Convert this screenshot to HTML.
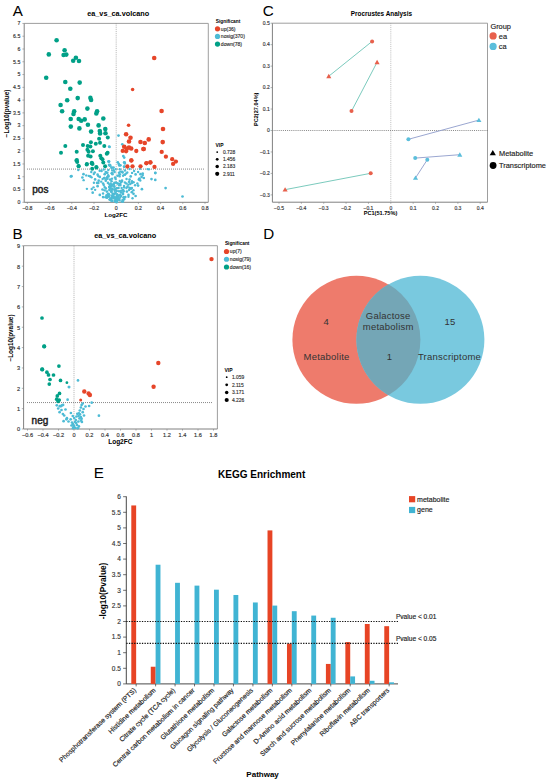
<!DOCTYPE html>
<html><head><meta charset="utf-8"><style>
html,body{margin:0;padding:0;background:#fff;width:550px;height:780px;overflow:hidden}
svg{display:block;font-family:"Liberation Sans",sans-serif}
</style></head><body>
<svg width="550" height="780" viewBox="0 0 550 780">
<rect width="550" height="780" fill="#fff"/>
<text x="12.70" y="15.80" font-size="15.2" text-anchor="start" fill="#000">A</text>
<text x="118.20" y="15.90" font-size="7.3" text-anchor="middle" font-weight="bold" fill="#000">ea_vs_ca.volcano</text>
<line x1="24.20" y1="23.40" x2="208.30" y2="23.40" stroke="#999" stroke-width="0.95"/>
<line x1="208.30" y1="23.40" x2="208.30" y2="202.30" stroke="#999" stroke-width="0.95"/>
<line x1="27.00" y1="169.09" x2="204.00" y2="169.09" stroke="#555" stroke-width="0.7" stroke-dasharray="1,1"/>
<line x1="116.20" y1="23.40" x2="116.20" y2="202.30" stroke="#888" stroke-width="0.6" stroke-dasharray="1,0.9"/>
<line x1="24.20" y1="23.40" x2="24.20" y2="202.30" stroke="#808080" stroke-width="1.0"/>
<line x1="24.20" y1="202.30" x2="208.30" y2="202.30" stroke="#808080" stroke-width="1.0"/>
<line x1="22.40" y1="202.30" x2="24.20" y2="202.30" stroke="#808080" stroke-width="0.6"/>
<text x="20.30" y="204.10" font-size="5.2" text-anchor="end" fill="#333" stroke="#333" stroke-width="0.15">0</text>
<line x1="22.40" y1="189.53" x2="24.20" y2="189.53" stroke="#808080" stroke-width="0.6"/>
<text x="20.30" y="191.33" font-size="5.2" text-anchor="end" fill="#333" stroke="#333" stroke-width="0.15">0.5</text>
<line x1="22.40" y1="176.75" x2="24.20" y2="176.75" stroke="#808080" stroke-width="0.6"/>
<text x="20.30" y="178.55" font-size="5.2" text-anchor="end" fill="#333" stroke="#333" stroke-width="0.15">1</text>
<line x1="22.40" y1="163.98" x2="24.20" y2="163.98" stroke="#808080" stroke-width="0.6"/>
<text x="20.30" y="165.78" font-size="5.2" text-anchor="end" fill="#333" stroke="#333" stroke-width="0.15">1.5</text>
<line x1="22.40" y1="151.20" x2="24.20" y2="151.20" stroke="#808080" stroke-width="0.6"/>
<text x="20.30" y="153.00" font-size="5.2" text-anchor="end" fill="#333" stroke="#333" stroke-width="0.15">2</text>
<line x1="22.40" y1="138.43" x2="24.20" y2="138.43" stroke="#808080" stroke-width="0.6"/>
<text x="20.30" y="140.23" font-size="5.2" text-anchor="end" fill="#333" stroke="#333" stroke-width="0.15">2.5</text>
<line x1="22.40" y1="125.65" x2="24.20" y2="125.65" stroke="#808080" stroke-width="0.6"/>
<text x="20.30" y="127.45" font-size="5.2" text-anchor="end" fill="#333" stroke="#333" stroke-width="0.15">3</text>
<line x1="22.40" y1="112.88" x2="24.20" y2="112.88" stroke="#808080" stroke-width="0.6"/>
<text x="20.30" y="114.68" font-size="5.2" text-anchor="end" fill="#333" stroke="#333" stroke-width="0.15">3.5</text>
<line x1="22.40" y1="100.10" x2="24.20" y2="100.10" stroke="#808080" stroke-width="0.6"/>
<text x="20.30" y="101.90" font-size="5.2" text-anchor="end" fill="#333" stroke="#333" stroke-width="0.15">4</text>
<line x1="22.40" y1="87.33" x2="24.20" y2="87.33" stroke="#808080" stroke-width="0.6"/>
<text x="20.30" y="89.12" font-size="5.2" text-anchor="end" fill="#333" stroke="#333" stroke-width="0.15">4.5</text>
<line x1="22.40" y1="74.55" x2="24.20" y2="74.55" stroke="#808080" stroke-width="0.6"/>
<text x="20.30" y="76.35" font-size="5.2" text-anchor="end" fill="#333" stroke="#333" stroke-width="0.15">5</text>
<line x1="22.40" y1="61.78" x2="24.20" y2="61.78" stroke="#808080" stroke-width="0.6"/>
<text x="20.30" y="63.58" font-size="5.2" text-anchor="end" fill="#333" stroke="#333" stroke-width="0.15">5.5</text>
<line x1="22.40" y1="49.00" x2="24.20" y2="49.00" stroke="#808080" stroke-width="0.6"/>
<text x="20.30" y="50.80" font-size="5.2" text-anchor="end" fill="#333" stroke="#333" stroke-width="0.15">6</text>
<line x1="22.40" y1="36.22" x2="24.20" y2="36.22" stroke="#808080" stroke-width="0.6"/>
<text x="20.30" y="38.02" font-size="5.2" text-anchor="end" fill="#333" stroke="#333" stroke-width="0.15">6.5</text>
<line x1="22.40" y1="23.45" x2="24.20" y2="23.45" stroke="#808080" stroke-width="0.6"/>
<text x="20.30" y="25.25" font-size="5.2" text-anchor="end" fill="#333" stroke="#333" stroke-width="0.15">7</text>
<line x1="27.40" y1="202.30" x2="27.40" y2="203.90" stroke="#808080" stroke-width="0.6"/>
<text x="27.40" y="209.80" font-size="5.2" text-anchor="middle" fill="#333" stroke="#333" stroke-width="0.15">−0.8</text>
<line x1="49.60" y1="202.30" x2="49.60" y2="203.90" stroke="#808080" stroke-width="0.6"/>
<text x="49.60" y="209.80" font-size="5.2" text-anchor="middle" fill="#333" stroke="#333" stroke-width="0.15">−0.6</text>
<line x1="71.80" y1="202.30" x2="71.80" y2="203.90" stroke="#808080" stroke-width="0.6"/>
<text x="71.80" y="209.80" font-size="5.2" text-anchor="middle" fill="#333" stroke="#333" stroke-width="0.15">−0.4</text>
<line x1="94.00" y1="202.30" x2="94.00" y2="203.90" stroke="#808080" stroke-width="0.6"/>
<text x="94.00" y="209.80" font-size="5.2" text-anchor="middle" fill="#333" stroke="#333" stroke-width="0.15">−0.2</text>
<line x1="116.20" y1="202.30" x2="116.20" y2="203.90" stroke="#808080" stroke-width="0.6"/>
<text x="116.20" y="209.80" font-size="5.2" text-anchor="middle" fill="#333" stroke="#333" stroke-width="0.15">0</text>
<line x1="138.40" y1="202.30" x2="138.40" y2="203.90" stroke="#808080" stroke-width="0.6"/>
<text x="138.40" y="209.80" font-size="5.2" text-anchor="middle" fill="#333" stroke="#333" stroke-width="0.15">0.2</text>
<line x1="160.60" y1="202.30" x2="160.60" y2="203.90" stroke="#808080" stroke-width="0.6"/>
<text x="160.60" y="209.80" font-size="5.2" text-anchor="middle" fill="#333" stroke="#333" stroke-width="0.15">0.4</text>
<line x1="182.80" y1="202.30" x2="182.80" y2="203.90" stroke="#808080" stroke-width="0.6"/>
<text x="182.80" y="209.80" font-size="5.2" text-anchor="middle" fill="#333" stroke="#333" stroke-width="0.15">0.6</text>
<line x1="205.00" y1="202.30" x2="205.00" y2="203.90" stroke="#808080" stroke-width="0.6"/>
<text x="205.00" y="209.80" font-size="5.2" text-anchor="middle" fill="#333" stroke="#333" stroke-width="0.15">0.8</text>
<text x="115.90" y="216.60" font-size="6.2" text-anchor="middle" font-weight="bold" fill="#000">Log2FC</text>
<text x="8.90" y="113.50" font-size="6.5" text-anchor="middle" font-weight="bold" fill="#000" transform="rotate(-90 8.90 113.50)">−Log10(pvalue)</text>
<text x="32.30" y="193.10" font-size="10" text-anchor="start" fill="#222" stroke="#222" stroke-width="0.45">pos</text>
<text x="215.80" y="22.90" font-size="4.8" text-anchor="start" font-weight="bold" fill="#000">Significant</text>
<circle cx="217.50" cy="28.80" r="2.6" fill="#E64529"/>
<text x="220.80" y="30.60" font-size="5.1" text-anchor="start" fill="#333" stroke="#333" stroke-width="0.15">up(36)</text>
<circle cx="217.50" cy="36.45" r="2.6" fill="#4DBBD5"/>
<text x="220.80" y="38.25" font-size="5.1" text-anchor="start" fill="#333" stroke="#333" stroke-width="0.15">nosig(370)</text>
<circle cx="217.50" cy="44.10" r="2.6" fill="#00A087"/>
<text x="220.80" y="45.90" font-size="5.1" text-anchor="start" fill="#333" stroke="#333" stroke-width="0.15">down(78)</text>
<text x="215.50" y="146.60" font-size="5" text-anchor="start" font-weight="bold" fill="#000">VIP</text>
<circle cx="217.20" cy="152.10" r="0.9" fill="#000"/>
<text x="222.90" y="153.80" font-size="4.9" text-anchor="start" fill="#333" stroke="#333" stroke-width="0.15">0.728</text>
<circle cx="217.20" cy="159.35" r="1.4" fill="#000"/>
<text x="222.90" y="161.05" font-size="4.9" text-anchor="start" fill="#333" stroke="#333" stroke-width="0.15">1.456</text>
<circle cx="217.20" cy="166.60" r="1.75" fill="#000"/>
<text x="222.90" y="168.30" font-size="4.9" text-anchor="start" fill="#333" stroke="#333" stroke-width="0.15">2.183</text>
<circle cx="217.20" cy="173.85" r="2.05" fill="#000"/>
<text x="222.90" y="175.55" font-size="4.9" text-anchor="start" fill="#333" stroke="#333" stroke-width="0.15">2.911</text>
<circle cx="123.57" cy="191.38" r="1.2" fill="#4DBBD5"/>
<circle cx="122.56" cy="199.86" r="1.2" fill="#4DBBD5"/>
<circle cx="113.56" cy="184.23" r="1.2" fill="#4DBBD5"/>
<circle cx="119.08" cy="185.19" r="1.2" fill="#4DBBD5"/>
<circle cx="114.48" cy="201.04" r="1.2" fill="#4DBBD5"/>
<circle cx="117.07" cy="199.24" r="1.2" fill="#4DBBD5"/>
<circle cx="118.60" cy="187.98" r="1.2" fill="#4DBBD5"/>
<circle cx="112.84" cy="194.77" r="1.2" fill="#4DBBD5"/>
<circle cx="131.99" cy="181.14" r="1.2" fill="#4DBBD5"/>
<circle cx="112.11" cy="188.92" r="1.2" fill="#4DBBD5"/>
<circle cx="148.98" cy="169.37" r="1.2" fill="#4DBBD5"/>
<circle cx="120.91" cy="192.53" r="1.2" fill="#4DBBD5"/>
<circle cx="120.22" cy="197.43" r="1.2" fill="#4DBBD5"/>
<circle cx="125.01" cy="174.78" r="1.2" fill="#4DBBD5"/>
<circle cx="107.71" cy="196.20" r="1.2" fill="#4DBBD5"/>
<circle cx="109.65" cy="189.74" r="1.2" fill="#4DBBD5"/>
<circle cx="119.97" cy="183.83" r="1.2" fill="#4DBBD5"/>
<circle cx="117.16" cy="195.35" r="1.2" fill="#4DBBD5"/>
<circle cx="105.74" cy="179.35" r="1.2" fill="#4DBBD5"/>
<circle cx="120.84" cy="182.55" r="1.2" fill="#4DBBD5"/>
<circle cx="110.50" cy="187.02" r="1.2" fill="#4DBBD5"/>
<circle cx="139.31" cy="178.73" r="1.2" fill="#4DBBD5"/>
<circle cx="107.86" cy="194.07" r="1.2" fill="#4DBBD5"/>
<circle cx="107.41" cy="172.79" r="1.2" fill="#4DBBD5"/>
<circle cx="106.90" cy="177.70" r="1.2" fill="#4DBBD5"/>
<circle cx="132.52" cy="198.32" r="1.2" fill="#4DBBD5"/>
<circle cx="116.46" cy="188.20" r="1.2" fill="#4DBBD5"/>
<circle cx="109.95" cy="185.81" r="1.2" fill="#4DBBD5"/>
<circle cx="112.06" cy="200.98" r="1.2" fill="#4DBBD5"/>
<circle cx="98.43" cy="182.97" r="1.2" fill="#4DBBD5"/>
<circle cx="106.59" cy="172.77" r="1.2" fill="#4DBBD5"/>
<circle cx="133.63" cy="182.25" r="1.2" fill="#4DBBD5"/>
<circle cx="93.93" cy="182.74" r="1.2" fill="#4DBBD5"/>
<circle cx="124.99" cy="170.44" r="1.2" fill="#4DBBD5"/>
<circle cx="114.26" cy="186.31" r="1.2" fill="#4DBBD5"/>
<circle cx="112.04" cy="178.64" r="1.2" fill="#4DBBD5"/>
<circle cx="140.28" cy="180.47" r="1.2" fill="#4DBBD5"/>
<circle cx="115.54" cy="192.70" r="1.2" fill="#4DBBD5"/>
<circle cx="115.20" cy="189.29" r="1.2" fill="#4DBBD5"/>
<circle cx="114.24" cy="186.73" r="1.2" fill="#4DBBD5"/>
<circle cx="117.92" cy="196.63" r="1.2" fill="#4DBBD5"/>
<circle cx="119.61" cy="176.39" r="1.2" fill="#4DBBD5"/>
<circle cx="116.29" cy="197.94" r="1.2" fill="#4DBBD5"/>
<circle cx="132.06" cy="172.91" r="1.2" fill="#4DBBD5"/>
<circle cx="109.60" cy="199.58" r="1.2" fill="#4DBBD5"/>
<circle cx="122.58" cy="172.51" r="1.2" fill="#4DBBD5"/>
<circle cx="124.28" cy="174.67" r="1.2" fill="#4DBBD5"/>
<circle cx="110.16" cy="188.29" r="1.2" fill="#4DBBD5"/>
<circle cx="133.43" cy="190.20" r="1.2" fill="#4DBBD5"/>
<circle cx="105.44" cy="197.21" r="1.2" fill="#4DBBD5"/>
<circle cx="116.76" cy="196.36" r="1.2" fill="#4DBBD5"/>
<circle cx="124.05" cy="185.94" r="1.2" fill="#4DBBD5"/>
<circle cx="116.11" cy="182.43" r="1.2" fill="#4DBBD5"/>
<circle cx="117.10" cy="188.17" r="1.2" fill="#4DBBD5"/>
<circle cx="95.14" cy="189.85" r="1.2" fill="#4DBBD5"/>
<circle cx="102.63" cy="179.01" r="1.2" fill="#4DBBD5"/>
<circle cx="103.72" cy="184.91" r="1.2" fill="#4DBBD5"/>
<circle cx="110.99" cy="200.48" r="1.2" fill="#4DBBD5"/>
<circle cx="122.42" cy="171.96" r="1.2" fill="#4DBBD5"/>
<circle cx="86.26" cy="175.39" r="1.2" fill="#4DBBD5"/>
<circle cx="112.58" cy="189.07" r="1.2" fill="#4DBBD5"/>
<circle cx="119.75" cy="180.91" r="1.2" fill="#4DBBD5"/>
<circle cx="119.48" cy="200.20" r="1.2" fill="#4DBBD5"/>
<circle cx="118.05" cy="196.83" r="1.2" fill="#4DBBD5"/>
<circle cx="116.38" cy="190.83" r="1.2" fill="#4DBBD5"/>
<circle cx="116.25" cy="197.20" r="1.2" fill="#4DBBD5"/>
<circle cx="115.34" cy="198.88" r="1.2" fill="#4DBBD5"/>
<circle cx="118.94" cy="172.81" r="1.2" fill="#4DBBD5"/>
<circle cx="121.89" cy="181.59" r="1.2" fill="#4DBBD5"/>
<circle cx="121.73" cy="190.58" r="1.2" fill="#4DBBD5"/>
<circle cx="129.08" cy="190.02" r="1.2" fill="#4DBBD5"/>
<circle cx="139.98" cy="168.81" r="1.2" fill="#4DBBD5"/>
<circle cx="111.74" cy="186.58" r="1.2" fill="#4DBBD5"/>
<circle cx="116.45" cy="198.85" r="1.2" fill="#4DBBD5"/>
<circle cx="114.64" cy="190.74" r="1.2" fill="#4DBBD5"/>
<circle cx="128.49" cy="196.86" r="1.2" fill="#4DBBD5"/>
<circle cx="121.74" cy="201.52" r="1.2" fill="#4DBBD5"/>
<circle cx="113.83" cy="197.36" r="1.2" fill="#4DBBD5"/>
<circle cx="130.22" cy="183.98" r="1.2" fill="#4DBBD5"/>
<circle cx="119.79" cy="169.30" r="1.2" fill="#4DBBD5"/>
<circle cx="112.12" cy="173.18" r="1.2" fill="#4DBBD5"/>
<circle cx="109.39" cy="189.93" r="1.2" fill="#4DBBD5"/>
<circle cx="117.33" cy="196.67" r="1.2" fill="#4DBBD5"/>
<circle cx="98.23" cy="176.03" r="1.2" fill="#4DBBD5"/>
<circle cx="118.91" cy="191.18" r="1.2" fill="#4DBBD5"/>
<circle cx="147.58" cy="169.08" r="1.2" fill="#4DBBD5"/>
<circle cx="126.20" cy="173.54" r="1.2" fill="#4DBBD5"/>
<circle cx="91.59" cy="177.35" r="1.2" fill="#4DBBD5"/>
<circle cx="109.28" cy="194.65" r="1.2" fill="#4DBBD5"/>
<circle cx="115.70" cy="201.32" r="1.2" fill="#4DBBD5"/>
<circle cx="115.52" cy="201.36" r="1.2" fill="#4DBBD5"/>
<circle cx="126.53" cy="178.94" r="1.2" fill="#4DBBD5"/>
<circle cx="78.28" cy="170.04" r="1.2" fill="#4DBBD5"/>
<circle cx="129.57" cy="168.98" r="1.2" fill="#4DBBD5"/>
<circle cx="108.27" cy="170.09" r="1.2" fill="#4DBBD5"/>
<circle cx="120.14" cy="194.65" r="1.2" fill="#4DBBD5"/>
<circle cx="118.98" cy="195.67" r="1.2" fill="#4DBBD5"/>
<circle cx="138.09" cy="171.94" r="1.2" fill="#4DBBD5"/>
<circle cx="93.80" cy="173.96" r="1.2" fill="#4DBBD5"/>
<circle cx="119.00" cy="175.33" r="1.2" fill="#4DBBD5"/>
<circle cx="109.71" cy="199.44" r="1.2" fill="#4DBBD5"/>
<circle cx="88.81" cy="175.92" r="1.2" fill="#4DBBD5"/>
<circle cx="107.30" cy="177.00" r="1.2" fill="#4DBBD5"/>
<circle cx="117.48" cy="175.69" r="1.2" fill="#4DBBD5"/>
<circle cx="123.60" cy="191.09" r="1.2" fill="#4DBBD5"/>
<circle cx="91.72" cy="188.95" r="1.2" fill="#4DBBD5"/>
<circle cx="130.97" cy="188.76" r="1.2" fill="#4DBBD5"/>
<circle cx="112.68" cy="196.57" r="1.2" fill="#4DBBD5"/>
<circle cx="123.92" cy="198.02" r="1.2" fill="#4DBBD5"/>
<circle cx="142.79" cy="175.10" r="1.2" fill="#4DBBD5"/>
<circle cx="124.45" cy="197.37" r="1.2" fill="#4DBBD5"/>
<circle cx="83.63" cy="180.13" r="1.2" fill="#4DBBD5"/>
<circle cx="111.62" cy="190.48" r="1.2" fill="#4DBBD5"/>
<circle cx="115.46" cy="201.82" r="1.2" fill="#4DBBD5"/>
<circle cx="103.77" cy="169.56" r="1.2" fill="#4DBBD5"/>
<circle cx="99.65" cy="170.81" r="1.2" fill="#4DBBD5"/>
<circle cx="129.36" cy="187.67" r="1.2" fill="#4DBBD5"/>
<circle cx="106.45" cy="195.18" r="1.2" fill="#4DBBD5"/>
<circle cx="114.66" cy="193.81" r="1.2" fill="#4DBBD5"/>
<circle cx="124.90" cy="182.52" r="1.2" fill="#4DBBD5"/>
<circle cx="112.56" cy="193.55" r="1.2" fill="#4DBBD5"/>
<circle cx="120.45" cy="171.61" r="1.2" fill="#4DBBD5"/>
<circle cx="104.57" cy="190.37" r="1.2" fill="#4DBBD5"/>
<circle cx="121.83" cy="171.80" r="1.2" fill="#4DBBD5"/>
<circle cx="126.45" cy="188.11" r="1.2" fill="#4DBBD5"/>
<circle cx="109.52" cy="184.36" r="1.2" fill="#4DBBD5"/>
<circle cx="128.33" cy="184.64" r="1.2" fill="#4DBBD5"/>
<circle cx="117.07" cy="196.12" r="1.2" fill="#4DBBD5"/>
<circle cx="117.04" cy="202.17" r="1.2" fill="#4DBBD5"/>
<circle cx="109.94" cy="186.33" r="1.2" fill="#4DBBD5"/>
<circle cx="104.54" cy="177.84" r="1.2" fill="#4DBBD5"/>
<circle cx="112.72" cy="184.82" r="1.2" fill="#4DBBD5"/>
<circle cx="117.39" cy="183.57" r="1.2" fill="#4DBBD5"/>
<circle cx="110.73" cy="183.40" r="1.2" fill="#4DBBD5"/>
<circle cx="113.97" cy="193.92" r="1.2" fill="#4DBBD5"/>
<circle cx="135.08" cy="185.18" r="1.2" fill="#4DBBD5"/>
<circle cx="117.84" cy="183.36" r="1.2" fill="#4DBBD5"/>
<circle cx="93.54" cy="187.35" r="1.2" fill="#4DBBD5"/>
<circle cx="101.21" cy="181.64" r="1.2" fill="#4DBBD5"/>
<circle cx="115.63" cy="178.94" r="1.2" fill="#4DBBD5"/>
<circle cx="104.59" cy="187.04" r="1.2" fill="#4DBBD5"/>
<circle cx="112.21" cy="170.55" r="1.2" fill="#4DBBD5"/>
<circle cx="139.48" cy="178.72" r="1.2" fill="#4DBBD5"/>
<circle cx="103.05" cy="193.54" r="1.2" fill="#4DBBD5"/>
<circle cx="137.40" cy="183.43" r="1.2" fill="#4DBBD5"/>
<circle cx="112.03" cy="197.68" r="1.2" fill="#4DBBD5"/>
<circle cx="114.01" cy="198.20" r="1.2" fill="#4DBBD5"/>
<circle cx="117.25" cy="194.18" r="1.2" fill="#4DBBD5"/>
<circle cx="111.62" cy="199.83" r="1.2" fill="#4DBBD5"/>
<circle cx="91.29" cy="172.05" r="1.2" fill="#4DBBD5"/>
<circle cx="114.19" cy="197.09" r="1.2" fill="#4DBBD5"/>
<circle cx="107.12" cy="197.48" r="1.2" fill="#4DBBD5"/>
<circle cx="127.29" cy="172.53" r="1.2" fill="#4DBBD5"/>
<circle cx="113.78" cy="170.18" r="1.2" fill="#4DBBD5"/>
<circle cx="86.92" cy="188.87" r="1.2" fill="#4DBBD5"/>
<circle cx="119.94" cy="174.22" r="1.2" fill="#4DBBD5"/>
<circle cx="109.01" cy="196.85" r="1.2" fill="#4DBBD5"/>
<circle cx="120.68" cy="190.86" r="1.2" fill="#4DBBD5"/>
<circle cx="111.51" cy="195.70" r="1.2" fill="#4DBBD5"/>
<circle cx="123.03" cy="201.64" r="1.2" fill="#4DBBD5"/>
<circle cx="114.11" cy="183.61" r="1.2" fill="#4DBBD5"/>
<circle cx="116.82" cy="191.12" r="1.2" fill="#4DBBD5"/>
<circle cx="111.60" cy="181.26" r="1.2" fill="#4DBBD5"/>
<circle cx="115.71" cy="169.08" r="1.2" fill="#4DBBD5"/>
<circle cx="123.07" cy="175.71" r="1.2" fill="#4DBBD5"/>
<circle cx="115.54" cy="193.34" r="1.2" fill="#4DBBD5"/>
<circle cx="116.91" cy="200.96" r="1.2" fill="#4DBBD5"/>
<circle cx="111.40" cy="197.93" r="1.2" fill="#4DBBD5"/>
<circle cx="131.91" cy="188.06" r="1.2" fill="#4DBBD5"/>
<circle cx="108.53" cy="193.58" r="1.2" fill="#4DBBD5"/>
<circle cx="123.48" cy="197.26" r="1.2" fill="#4DBBD5"/>
<circle cx="107.55" cy="178.68" r="1.2" fill="#4DBBD5"/>
<circle cx="124.23" cy="199.28" r="1.2" fill="#4DBBD5"/>
<circle cx="121.63" cy="187.96" r="1.2" fill="#4DBBD5"/>
<circle cx="123.29" cy="199.86" r="1.2" fill="#4DBBD5"/>
<circle cx="108.16" cy="175.26" r="1.2" fill="#4DBBD5"/>
<circle cx="117.47" cy="199.48" r="1.2" fill="#4DBBD5"/>
<circle cx="111.59" cy="173.20" r="1.2" fill="#4DBBD5"/>
<circle cx="109.17" cy="187.00" r="1.2" fill="#4DBBD5"/>
<circle cx="134.11" cy="171.05" r="1.2" fill="#4DBBD5"/>
<circle cx="122.91" cy="193.27" r="1.2" fill="#4DBBD5"/>
<circle cx="122.93" cy="194.26" r="1.2" fill="#4DBBD5"/>
<circle cx="117.20" cy="198.61" r="1.2" fill="#4DBBD5"/>
<circle cx="118.14" cy="195.50" r="1.2" fill="#4DBBD5"/>
<circle cx="111.31" cy="191.78" r="1.2" fill="#4DBBD5"/>
<circle cx="70.90" cy="176.40" r="1.35" fill="#4DBBD5"/>
<circle cx="83.50" cy="174.20" r="1.35" fill="#4DBBD5"/>
<circle cx="82.40" cy="177.50" r="1.35" fill="#4DBBD5"/>
<circle cx="90.30" cy="176.40" r="1.35" fill="#4DBBD5"/>
<circle cx="94.70" cy="172.50" r="1.35" fill="#4DBBD5"/>
<circle cx="95.10" cy="179.40" r="1.35" fill="#4DBBD5"/>
<circle cx="97.60" cy="174.70" r="1.35" fill="#4DBBD5"/>
<circle cx="98.70" cy="180.70" r="1.35" fill="#4DBBD5"/>
<circle cx="99.80" cy="176.90" r="1.35" fill="#4DBBD5"/>
<circle cx="97.10" cy="182.90" r="1.35" fill="#4DBBD5"/>
<circle cx="97.60" cy="186.20" r="1.35" fill="#4DBBD5"/>
<circle cx="92.70" cy="192.70" r="1.35" fill="#4DBBD5"/>
<circle cx="99.80" cy="194.90" r="1.35" fill="#4DBBD5"/>
<circle cx="103.10" cy="197.10" r="1.35" fill="#4DBBD5"/>
<circle cx="101.50" cy="170.90" r="1.35" fill="#4DBBD5"/>
<circle cx="104.70" cy="174.20" r="1.35" fill="#4DBBD5"/>
<circle cx="105.80" cy="172.00" r="1.35" fill="#4DBBD5"/>
<circle cx="108.50" cy="176.40" r="1.35" fill="#4DBBD5"/>
<circle cx="104.20" cy="178.00" r="1.35" fill="#4DBBD5"/>
<circle cx="105.80" cy="180.70" r="1.35" fill="#4DBBD5"/>
<circle cx="103.10" cy="183.50" r="1.35" fill="#4DBBD5"/>
<circle cx="108.00" cy="182.90" r="1.35" fill="#4DBBD5"/>
<circle cx="110.20" cy="179.60" r="1.35" fill="#4DBBD5"/>
<circle cx="112.40" cy="174.20" r="1.35" fill="#4DBBD5"/>
<circle cx="111.80" cy="185.10" r="1.35" fill="#4DBBD5"/>
<circle cx="109.60" cy="187.30" r="1.35" fill="#4DBBD5"/>
<circle cx="105.80" cy="188.40" r="1.35" fill="#4DBBD5"/>
<circle cx="102.50" cy="189.50" r="1.35" fill="#4DBBD5"/>
<circle cx="106.90" cy="191.60" r="1.35" fill="#4DBBD5"/>
<circle cx="111.30" cy="191.60" r="1.35" fill="#4DBBD5"/>
<circle cx="114.50" cy="189.50" r="1.35" fill="#4DBBD5"/>
<circle cx="108.50" cy="194.90" r="1.35" fill="#4DBBD5"/>
<circle cx="113.50" cy="194.90" r="1.35" fill="#4DBBD5"/>
<circle cx="106.90" cy="197.60" r="1.35" fill="#4DBBD5"/>
<circle cx="110.70" cy="198.70" r="1.35" fill="#4DBBD5"/>
<circle cx="114.50" cy="198.20" r="1.35" fill="#4DBBD5"/>
<circle cx="116.70" cy="201.50" r="1.35" fill="#4DBBD5"/>
<circle cx="118.90" cy="199.30" r="1.35" fill="#4DBBD5"/>
<circle cx="114.50" cy="182.90" r="1.35" fill="#4DBBD5"/>
<circle cx="115.10" cy="177.50" r="1.35" fill="#4DBBD5"/>
<circle cx="114.50" cy="172.00" r="1.35" fill="#4DBBD5"/>
<circle cx="109.10" cy="161.60" r="1.35" fill="#4DBBD5"/>
<circle cx="109.10" cy="164.90" r="1.35" fill="#4DBBD5"/>
<circle cx="113.50" cy="167.60" r="1.35" fill="#4DBBD5"/>
<circle cx="124.70" cy="162.70" r="1.35" fill="#4DBBD5"/>
<circle cx="124.20" cy="166.80" r="1.35" fill="#4DBBD5"/>
<circle cx="111.60" cy="167.60" r="1.35" fill="#4DBBD5"/>
<circle cx="119.30" cy="165.50" r="1.35" fill="#4DBBD5"/>
<circle cx="135.60" cy="174.40" r="1.35" fill="#4DBBD5"/>
<circle cx="130.70" cy="176.40" r="1.35" fill="#4DBBD5"/>
<circle cx="140.50" cy="174.20" r="1.35" fill="#4DBBD5"/>
<circle cx="142.70" cy="173.60" r="1.35" fill="#4DBBD5"/>
<circle cx="141.60" cy="176.90" r="1.35" fill="#4DBBD5"/>
<circle cx="143.80" cy="178.00" r="1.35" fill="#4DBBD5"/>
<circle cx="138.90" cy="179.60" r="1.35" fill="#4DBBD5"/>
<circle cx="155.30" cy="173.10" r="1.35" fill="#4DBBD5"/>
<circle cx="151.50" cy="179.10" r="1.35" fill="#4DBBD5"/>
<circle cx="155.30" cy="179.90" r="1.35" fill="#4DBBD5"/>
<circle cx="165.60" cy="188.10" r="1.35" fill="#4DBBD5"/>
<circle cx="141.90" cy="189.20" r="1.35" fill="#4DBBD5"/>
<circle cx="138.10" cy="185.60" r="1.35" fill="#4DBBD5"/>
<circle cx="129.60" cy="179.60" r="1.35" fill="#4DBBD5"/>
<circle cx="129.10" cy="181.80" r="1.35" fill="#4DBBD5"/>
<circle cx="131.80" cy="182.90" r="1.35" fill="#4DBBD5"/>
<circle cx="126.40" cy="183.50" r="1.35" fill="#4DBBD5"/>
<circle cx="122.00" cy="180.70" r="1.35" fill="#4DBBD5"/>
<circle cx="120.40" cy="185.10" r="1.35" fill="#4DBBD5"/>
<circle cx="124.20" cy="187.30" r="1.35" fill="#4DBBD5"/>
<circle cx="127.50" cy="186.70" r="1.35" fill="#4DBBD5"/>
<circle cx="130.20" cy="188.40" r="1.35" fill="#4DBBD5"/>
<circle cx="123.10" cy="190.00" r="1.35" fill="#4DBBD5"/>
<circle cx="126.90" cy="191.60" r="1.35" fill="#4DBBD5"/>
<circle cx="131.80" cy="192.20" r="1.35" fill="#4DBBD5"/>
<circle cx="133.50" cy="193.80" r="1.35" fill="#4DBBD5"/>
<circle cx="135.60" cy="196.00" r="1.35" fill="#4DBBD5"/>
<circle cx="128.50" cy="194.90" r="1.35" fill="#4DBBD5"/>
<circle cx="125.30" cy="197.10" r="1.35" fill="#4DBBD5"/>
<circle cx="120.90" cy="196.00" r="1.35" fill="#4DBBD5"/>
<circle cx="118.70" cy="198.70" r="1.35" fill="#4DBBD5"/>
<circle cx="116.50" cy="200.40" r="1.35" fill="#4DBBD5"/>
<circle cx="118.50" cy="135.60" r="1.35" fill="#4DBBD5"/>
<circle cx="122.30" cy="144.30" r="1.35" fill="#4DBBD5"/>
<circle cx="109.20" cy="146.60" r="1.35" fill="#4DBBD5"/>
<circle cx="123.30" cy="156.00" r="1.35" fill="#4DBBD5"/>
<circle cx="124.20" cy="157.60" r="1.35" fill="#4DBBD5"/>
<circle cx="108.70" cy="161.50" r="1.35" fill="#4DBBD5"/>
<circle cx="117.80" cy="162.30" r="1.35" fill="#4DBBD5"/>
<circle cx="118.80" cy="164.00" r="1.35" fill="#4DBBD5"/>
<circle cx="120.40" cy="165.30" r="1.35" fill="#4DBBD5"/>
<circle cx="124.20" cy="162.30" r="1.35" fill="#4DBBD5"/>
<circle cx="124.80" cy="163.40" r="1.35" fill="#4DBBD5"/>
<circle cx="124.20" cy="166.50" r="1.35" fill="#4DBBD5"/>
<circle cx="109.90" cy="165.70" r="1.35" fill="#4DBBD5"/>
<circle cx="111.70" cy="167.80" r="1.35" fill="#4DBBD5"/>
<circle cx="155.30" cy="172.80" r="1.35" fill="#4DBBD5"/>
<circle cx="109.50" cy="147.00" r="1.35" fill="#4DBBD5"/>
<circle cx="108.50" cy="161.50" r="1.35" fill="#4DBBD5"/>
<circle cx="110.10" cy="165.20" r="1.35" fill="#4DBBD5"/>
<circle cx="182.50" cy="196.50" r="1.35" fill="#4DBBD5"/>
<circle cx="71.50" cy="176.20" r="1.35" fill="#4DBBD5"/>
<circle cx="56.60" cy="40.20" r="2.3" fill="#00A087"/>
<circle cx="64.60" cy="50.30" r="2.3" fill="#00A087"/>
<circle cx="48.80" cy="54.40" r="2.3" fill="#00A087"/>
<circle cx="63.60" cy="55.00" r="2.3" fill="#00A087"/>
<circle cx="66.30" cy="54.60" r="2.3" fill="#00A087"/>
<circle cx="75.90" cy="57.80" r="2.3" fill="#00A087"/>
<circle cx="73.20" cy="60.80" r="2.3" fill="#00A087"/>
<circle cx="79.00" cy="61.00" r="2.3" fill="#00A087"/>
<circle cx="46.20" cy="77.70" r="2.3" fill="#00A087"/>
<circle cx="65.30" cy="82.00" r="2.3" fill="#00A087"/>
<circle cx="79.70" cy="82.60" r="2.3" fill="#00A087"/>
<circle cx="70.30" cy="88.70" r="2.3" fill="#00A087"/>
<circle cx="77.70" cy="98.10" r="2.3" fill="#00A087"/>
<circle cx="90.40" cy="97.90" r="2.3" fill="#00A087"/>
<circle cx="91.10" cy="100.00" r="2.3" fill="#00A087"/>
<circle cx="67.20" cy="100.30" r="2.3" fill="#00A087"/>
<circle cx="60.60" cy="105.00" r="2.3" fill="#00A087"/>
<circle cx="87.40" cy="108.60" r="2.3" fill="#00A087"/>
<circle cx="62.10" cy="111.30" r="2.3" fill="#00A087"/>
<circle cx="74.20" cy="111.20" r="2.3" fill="#00A087"/>
<circle cx="97.10" cy="111.20" r="2.3" fill="#00A087"/>
<circle cx="73.50" cy="114.00" r="2.3" fill="#00A087"/>
<circle cx="96.30" cy="113.50" r="2.3" fill="#00A087"/>
<circle cx="70.70" cy="119.00" r="2.3" fill="#00A087"/>
<circle cx="78.70" cy="119.00" r="2.3" fill="#00A087"/>
<circle cx="81.20" cy="120.70" r="2.3" fill="#00A087"/>
<circle cx="84.70" cy="119.40" r="2.3" fill="#00A087"/>
<circle cx="103.30" cy="118.50" r="2.3" fill="#00A087"/>
<circle cx="70.80" cy="126.60" r="2.3" fill="#00A087"/>
<circle cx="79.40" cy="128.40" r="2.3" fill="#00A087"/>
<circle cx="87.90" cy="124.70" r="2.3" fill="#00A087"/>
<circle cx="98.60" cy="125.40" r="2.3" fill="#00A087"/>
<circle cx="91.10" cy="131.60" r="2.3" fill="#00A087"/>
<circle cx="99.80" cy="131.10" r="2.3" fill="#00A087"/>
<circle cx="100.10" cy="133.40" r="2.3" fill="#00A087"/>
<circle cx="105.30" cy="129.10" r="2.3" fill="#00A087"/>
<circle cx="105.50" cy="133.30" r="2.3" fill="#00A087"/>
<circle cx="107.80" cy="137.40" r="2.0" fill="#00A087"/>
<circle cx="99.10" cy="138.80" r="2.0" fill="#00A087"/>
<circle cx="65.30" cy="146.10" r="2.0" fill="#00A087"/>
<circle cx="61.00" cy="152.80" r="2.0" fill="#00A087"/>
<circle cx="83.00" cy="145.00" r="2.0" fill="#00A087"/>
<circle cx="90.90" cy="142.30" r="2.0" fill="#00A087"/>
<circle cx="95.80" cy="143.80" r="2.0" fill="#00A087"/>
<circle cx="100.00" cy="142.80" r="2.0" fill="#00A087"/>
<circle cx="87.70" cy="146.10" r="2.0" fill="#00A087"/>
<circle cx="90.40" cy="146.50" r="2.0" fill="#00A087"/>
<circle cx="104.30" cy="146.10" r="2.0" fill="#00A087"/>
<circle cx="87.40" cy="149.70" r="2.0" fill="#00A087"/>
<circle cx="88.60" cy="151.80" r="2.0" fill="#00A087"/>
<circle cx="92.90" cy="151.20" r="2.0" fill="#00A087"/>
<circle cx="76.70" cy="151.80" r="2.0" fill="#00A087"/>
<circle cx="107.60" cy="152.80" r="2.0" fill="#00A087"/>
<circle cx="106.80" cy="153.70" r="2.0" fill="#00A087"/>
<circle cx="88.10" cy="155.70" r="2.0" fill="#00A087"/>
<circle cx="90.60" cy="156.50" r="2.0" fill="#00A087"/>
<circle cx="100.30" cy="155.70" r="2.0" fill="#00A087"/>
<circle cx="101.30" cy="158.20" r="2.0" fill="#00A087"/>
<circle cx="76.90" cy="159.90" r="2.0" fill="#00A087"/>
<circle cx="77.20" cy="161.90" r="2.0" fill="#00A087"/>
<circle cx="78.70" cy="166.20" r="2.0" fill="#00A087"/>
<circle cx="86.90" cy="164.00" r="2.0" fill="#00A087"/>
<circle cx="91.70" cy="163.20" r="2.0" fill="#00A087"/>
<circle cx="102.50" cy="159.20" r="2.0" fill="#00A087"/>
<circle cx="105.10" cy="166.30" r="2.0" fill="#00A087"/>
<circle cx="96.30" cy="166.90" r="2.0" fill="#00A087"/>
<circle cx="76.40" cy="160.50" r="2.0" fill="#00A087"/>
<circle cx="78.50" cy="166.00" r="2.0" fill="#00A087"/>
<circle cx="86.70" cy="164.40" r="2.0" fill="#00A087"/>
<circle cx="91.90" cy="162.70" r="2.0" fill="#00A087"/>
<circle cx="92.50" cy="164.10" r="2.0" fill="#00A087"/>
<circle cx="92.20" cy="168.70" r="2.0" fill="#00A087"/>
<circle cx="96.50" cy="167.60" r="2.0" fill="#00A087"/>
<circle cx="103.30" cy="162.60" r="2.0" fill="#00A087"/>
<circle cx="154.20" cy="58.00" r="2.3" fill="#E64529"/>
<circle cx="161.60" cy="111.00" r="2.3" fill="#E64529"/>
<circle cx="163.00" cy="129.00" r="2.3" fill="#E64529"/>
<circle cx="126.10" cy="134.30" r="2.3" fill="#E64529"/>
<circle cx="130.50" cy="137.70" r="2.3" fill="#E64529"/>
<circle cx="129.00" cy="141.50" r="2.3" fill="#E64529"/>
<circle cx="140.50" cy="142.00" r="2.3" fill="#E64529"/>
<circle cx="144.80" cy="143.00" r="2.3" fill="#E64529"/>
<circle cx="148.70" cy="139.40" r="2.3" fill="#E64529"/>
<circle cx="162.70" cy="142.10" r="2.3" fill="#E64529"/>
<circle cx="124.20" cy="146.80" r="2.3" fill="#E64529"/>
<circle cx="129.00" cy="147.50" r="2.3" fill="#E64529"/>
<circle cx="131.20" cy="148.50" r="2.3" fill="#E64529"/>
<circle cx="126.70" cy="148.70" r="2.3" fill="#E64529"/>
<circle cx="122.70" cy="150.90" r="2.15" fill="#E64529"/>
<circle cx="126.10" cy="151.30" r="2.15" fill="#E64529"/>
<circle cx="136.30" cy="151.00" r="2.15" fill="#E64529"/>
<circle cx="143.50" cy="149.00" r="2.3" fill="#E64529"/>
<circle cx="161.70" cy="151.90" r="2.15" fill="#E64529"/>
<circle cx="165.90" cy="156.70" r="2.15" fill="#E64529"/>
<circle cx="131.40" cy="160.40" r="2.15" fill="#E64529"/>
<circle cx="146.50" cy="163.10" r="2.15" fill="#E64529"/>
<circle cx="150.40" cy="162.50" r="2.15" fill="#E64529"/>
<circle cx="127.40" cy="166.50" r="2.15" fill="#E64529"/>
<circle cx="132.50" cy="166.30" r="2.15" fill="#E64529"/>
<circle cx="140.50" cy="166.30" r="2.15" fill="#E64529"/>
<circle cx="154.50" cy="166.90" r="2.15" fill="#E64529"/>
<circle cx="143.60" cy="149.00" r="2.3" fill="#E64529"/>
<circle cx="172.20" cy="159.20" r="2.15" fill="#E64529"/>
<circle cx="175.90" cy="161.60" r="2.15" fill="#E64529"/>
<circle cx="173.10" cy="163.90" r="2.15" fill="#E64529"/>
<circle cx="131.30" cy="160.50" r="2.15" fill="#E64529"/>
<circle cx="146.30" cy="163.30" r="2.15" fill="#E64529"/>
<circle cx="150.40" cy="162.40" r="2.15" fill="#E64529"/>
<circle cx="132.60" cy="89.60" r="1.75" fill="#E64529"/>
<circle cx="128.60" cy="125.20" r="1.8" fill="#E64529"/>
<text x="12.40" y="239.00" font-size="15.2" text-anchor="start" fill="#000">B</text>
<text x="125.20" y="238.20" font-size="7.3" text-anchor="middle" font-weight="bold" fill="#000">ea_vs_ca.volcano</text>
<line x1="23.60" y1="245.70" x2="217.40" y2="245.70" stroke="#999" stroke-width="0.95"/>
<line x1="217.40" y1="245.70" x2="217.40" y2="429.00" stroke="#999" stroke-width="0.95"/>
<line x1="27.00" y1="402.55" x2="212.70" y2="402.55" stroke="#555" stroke-width="0.7" stroke-dasharray="1,1"/>
<line x1="74.00" y1="245.70" x2="74.00" y2="429.00" stroke="#888" stroke-width="0.6" stroke-dasharray="1,0.9"/>
<line x1="23.60" y1="245.70" x2="23.60" y2="429.00" stroke="#808080" stroke-width="1.0"/>
<line x1="23.60" y1="429.00" x2="217.40" y2="429.00" stroke="#808080" stroke-width="1.0"/>
<line x1="21.80" y1="429.00" x2="23.60" y2="429.00" stroke="#808080" stroke-width="0.6"/>
<text x="20.20" y="431.30" font-size="5.6" text-anchor="end" fill="#333" stroke="#333" stroke-width="0.15">0</text>
<line x1="21.80" y1="408.65" x2="23.60" y2="408.65" stroke="#808080" stroke-width="0.6"/>
<text x="20.20" y="410.95" font-size="5.6" text-anchor="end" fill="#333" stroke="#333" stroke-width="0.15">1</text>
<line x1="21.80" y1="388.30" x2="23.60" y2="388.30" stroke="#808080" stroke-width="0.6"/>
<text x="20.20" y="390.60" font-size="5.6" text-anchor="end" fill="#333" stroke="#333" stroke-width="0.15">2</text>
<line x1="21.80" y1="367.95" x2="23.60" y2="367.95" stroke="#808080" stroke-width="0.6"/>
<text x="20.20" y="370.25" font-size="5.6" text-anchor="end" fill="#333" stroke="#333" stroke-width="0.15">3</text>
<line x1="21.80" y1="347.60" x2="23.60" y2="347.60" stroke="#808080" stroke-width="0.6"/>
<text x="20.20" y="349.90" font-size="5.6" text-anchor="end" fill="#333" stroke="#333" stroke-width="0.15">4</text>
<line x1="21.80" y1="327.25" x2="23.60" y2="327.25" stroke="#808080" stroke-width="0.6"/>
<text x="20.20" y="329.55" font-size="5.6" text-anchor="end" fill="#333" stroke="#333" stroke-width="0.15">5</text>
<line x1="21.80" y1="306.90" x2="23.60" y2="306.90" stroke="#808080" stroke-width="0.6"/>
<text x="20.20" y="309.20" font-size="5.6" text-anchor="end" fill="#333" stroke="#333" stroke-width="0.15">6</text>
<line x1="21.80" y1="286.55" x2="23.60" y2="286.55" stroke="#808080" stroke-width="0.6"/>
<text x="20.20" y="288.85" font-size="5.6" text-anchor="end" fill="#333" stroke="#333" stroke-width="0.15">7</text>
<line x1="21.80" y1="266.20" x2="23.60" y2="266.20" stroke="#808080" stroke-width="0.6"/>
<text x="20.20" y="268.50" font-size="5.6" text-anchor="end" fill="#333" stroke="#333" stroke-width="0.15">8</text>
<line x1="21.80" y1="245.85" x2="23.60" y2="245.85" stroke="#808080" stroke-width="0.6"/>
<text x="20.20" y="248.15" font-size="5.6" text-anchor="end" fill="#333" stroke="#333" stroke-width="0.15">9</text>
<line x1="27.50" y1="429.00" x2="27.50" y2="430.60" stroke="#808080" stroke-width="0.6"/>
<text x="27.50" y="436.80" font-size="5.6" text-anchor="middle" fill="#333" stroke="#333" stroke-width="0.15">−0.6</text>
<line x1="43.00" y1="429.00" x2="43.00" y2="430.60" stroke="#808080" stroke-width="0.6"/>
<text x="43.00" y="436.80" font-size="5.6" text-anchor="middle" fill="#333" stroke="#333" stroke-width="0.15">−0.4</text>
<line x1="58.50" y1="429.00" x2="58.50" y2="430.60" stroke="#808080" stroke-width="0.6"/>
<text x="58.50" y="436.80" font-size="5.6" text-anchor="middle" fill="#333" stroke="#333" stroke-width="0.15">−0.2</text>
<line x1="74.00" y1="429.00" x2="74.00" y2="430.60" stroke="#808080" stroke-width="0.6"/>
<text x="74.00" y="436.80" font-size="5.6" text-anchor="middle" fill="#333" stroke="#333" stroke-width="0.15">0</text>
<line x1="89.50" y1="429.00" x2="89.50" y2="430.60" stroke="#808080" stroke-width="0.6"/>
<text x="89.50" y="436.80" font-size="5.6" text-anchor="middle" fill="#333" stroke="#333" stroke-width="0.15">0.2</text>
<line x1="105.00" y1="429.00" x2="105.00" y2="430.60" stroke="#808080" stroke-width="0.6"/>
<text x="105.00" y="436.80" font-size="5.6" text-anchor="middle" fill="#333" stroke="#333" stroke-width="0.15">0.4</text>
<line x1="120.50" y1="429.00" x2="120.50" y2="430.60" stroke="#808080" stroke-width="0.6"/>
<text x="120.50" y="436.80" font-size="5.6" text-anchor="middle" fill="#333" stroke="#333" stroke-width="0.15">0.6</text>
<line x1="136.00" y1="429.00" x2="136.00" y2="430.60" stroke="#808080" stroke-width="0.6"/>
<text x="136.00" y="436.80" font-size="5.6" text-anchor="middle" fill="#333" stroke="#333" stroke-width="0.15">0.8</text>
<line x1="151.50" y1="429.00" x2="151.50" y2="430.60" stroke="#808080" stroke-width="0.6"/>
<text x="151.50" y="436.80" font-size="5.6" text-anchor="middle" fill="#333" stroke="#333" stroke-width="0.15">1</text>
<line x1="167.00" y1="429.00" x2="167.00" y2="430.60" stroke="#808080" stroke-width="0.6"/>
<text x="167.00" y="436.80" font-size="5.6" text-anchor="middle" fill="#333" stroke="#333" stroke-width="0.15">1.2</text>
<line x1="182.50" y1="429.00" x2="182.50" y2="430.60" stroke="#808080" stroke-width="0.6"/>
<text x="182.50" y="436.80" font-size="5.6" text-anchor="middle" fill="#333" stroke="#333" stroke-width="0.15">1.4</text>
<line x1="198.00" y1="429.00" x2="198.00" y2="430.60" stroke="#808080" stroke-width="0.6"/>
<text x="198.00" y="436.80" font-size="5.6" text-anchor="middle" fill="#333" stroke="#333" stroke-width="0.15">1.6</text>
<line x1="213.50" y1="429.00" x2="213.50" y2="430.60" stroke="#808080" stroke-width="0.6"/>
<text x="213.50" y="436.80" font-size="5.6" text-anchor="middle" fill="#333" stroke="#333" stroke-width="0.15">1.8</text>
<text x="120.30" y="443.90" font-size="6.5" text-anchor="middle" font-weight="bold" fill="#000">Log2FC</text>
<text x="12.70" y="338.00" font-size="6.4" text-anchor="middle" font-weight="bold" fill="#000" transform="rotate(-90 12.70 338.00)">−Log10(pvalue)</text>
<text x="31.60" y="424.20" font-size="10" text-anchor="start" fill="#222" stroke="#222" stroke-width="0.45">neg</text>
<text x="224.90" y="245.20" font-size="4.8" text-anchor="start" font-weight="bold" fill="#000">Significant</text>
<circle cx="226.50" cy="251.50" r="2.6" fill="#E64529"/>
<text x="229.80" y="253.30" font-size="5.1" text-anchor="start" fill="#333" stroke="#333" stroke-width="0.15">up(7)</text>
<circle cx="226.50" cy="259.25" r="2.6" fill="#4DBBD5"/>
<text x="229.80" y="261.05" font-size="5.1" text-anchor="start" fill="#333" stroke="#333" stroke-width="0.15">nosig(79)</text>
<circle cx="226.50" cy="267.00" r="2.6" fill="#00A087"/>
<text x="229.80" y="268.80" font-size="5.1" text-anchor="start" fill="#333" stroke="#333" stroke-width="0.15">down(16)</text>
<text x="224.50" y="371.80" font-size="5" text-anchor="start" font-weight="bold" fill="#000">VIP</text>
<circle cx="226.70" cy="377.20" r="0.9" fill="#000"/>
<text x="231.90" y="378.90" font-size="4.9" text-anchor="start" fill="#333" stroke="#333" stroke-width="0.15">1.059</text>
<circle cx="226.70" cy="384.80" r="1.4" fill="#000"/>
<text x="231.90" y="386.50" font-size="4.9" text-anchor="start" fill="#333" stroke="#333" stroke-width="0.15">2.115</text>
<circle cx="226.70" cy="392.40" r="1.75" fill="#000"/>
<text x="231.90" y="394.10" font-size="4.9" text-anchor="start" fill="#333" stroke="#333" stroke-width="0.15">3.171</text>
<circle cx="226.70" cy="400.00" r="2.05" fill="#000"/>
<text x="231.90" y="401.70" font-size="4.9" text-anchor="start" fill="#333" stroke="#333" stroke-width="0.15">4.226</text>
<circle cx="78.00" cy="380.40" r="1.35" fill="#4DBBD5"/>
<circle cx="68.90" cy="387.00" r="1.35" fill="#4DBBD5"/>
<circle cx="67.60" cy="399.70" r="1.35" fill="#4DBBD5"/>
<circle cx="69.10" cy="387.10" r="1.35" fill="#4DBBD5"/>
<circle cx="56.80" cy="405.30" r="1.35" fill="#4DBBD5"/>
<circle cx="59.80" cy="406.20" r="1.35" fill="#4DBBD5"/>
<circle cx="60.90" cy="406.20" r="1.35" fill="#4DBBD5"/>
<circle cx="62.00" cy="405.30" r="1.35" fill="#4DBBD5"/>
<circle cx="63.10" cy="404.90" r="1.35" fill="#4DBBD5"/>
<circle cx="59.60" cy="412.20" r="1.35" fill="#4DBBD5"/>
<circle cx="62.90" cy="414.00" r="1.35" fill="#4DBBD5"/>
<circle cx="64.20" cy="415.50" r="1.35" fill="#4DBBD5"/>
<circle cx="66.90" cy="418.20" r="1.35" fill="#4DBBD5"/>
<circle cx="66.40" cy="419.30" r="1.35" fill="#4DBBD5"/>
<circle cx="63.60" cy="421.20" r="1.35" fill="#4DBBD5"/>
<circle cx="70.90" cy="413.00" r="1.35" fill="#4DBBD5"/>
<circle cx="70.70" cy="419.30" r="1.35" fill="#4DBBD5"/>
<circle cx="72.90" cy="424.20" r="1.35" fill="#4DBBD5"/>
<circle cx="74.00" cy="425.80" r="1.35" fill="#4DBBD5"/>
<circle cx="73.50" cy="426.90" r="1.35" fill="#4DBBD5"/>
<circle cx="75.10" cy="422.00" r="1.35" fill="#4DBBD5"/>
<circle cx="76.20" cy="423.10" r="1.35" fill="#4DBBD5"/>
<circle cx="78.40" cy="421.50" r="1.35" fill="#4DBBD5"/>
<circle cx="78.90" cy="426.40" r="1.35" fill="#4DBBD5"/>
<circle cx="77.30" cy="413.80" r="1.35" fill="#4DBBD5"/>
<circle cx="78.90" cy="413.30" r="1.35" fill="#4DBBD5"/>
<circle cx="80.00" cy="414.40" r="1.35" fill="#4DBBD5"/>
<circle cx="78.60" cy="416.00" r="1.35" fill="#4DBBD5"/>
<circle cx="80.80" cy="417.10" r="1.35" fill="#4DBBD5"/>
<circle cx="79.50" cy="418.40" r="1.35" fill="#4DBBD5"/>
<circle cx="81.60" cy="418.70" r="1.35" fill="#4DBBD5"/>
<circle cx="81.10" cy="420.60" r="1.35" fill="#4DBBD5"/>
<circle cx="81.90" cy="422.00" r="1.35" fill="#4DBBD5"/>
<circle cx="82.70" cy="412.20" r="1.35" fill="#4DBBD5"/>
<circle cx="81.60" cy="405.10" r="1.35" fill="#4DBBD5"/>
<circle cx="82.70" cy="403.50" r="1.35" fill="#4DBBD5"/>
<circle cx="80.90" cy="407.50" r="1.35" fill="#4DBBD5"/>
<circle cx="89.10" cy="406.00" r="1.35" fill="#4DBBD5"/>
<circle cx="91.70" cy="402.70" r="1.35" fill="#4DBBD5"/>
<circle cx="98.90" cy="415.70" r="1.35" fill="#4DBBD5"/>
<circle cx="74.50" cy="427.50" r="1.35" fill="#4DBBD5"/>
<circle cx="75.50" cy="428.00" r="1.35" fill="#4DBBD5"/>
<circle cx="73.00" cy="428.20" r="1.35" fill="#4DBBD5"/>
<circle cx="77.00" cy="425.00" r="1.35" fill="#4DBBD5"/>
<circle cx="72.00" cy="422.50" r="1.35" fill="#4DBBD5"/>
<circle cx="75.80" cy="420.00" r="1.35" fill="#4DBBD5"/>
<circle cx="58.20" cy="408.50" r="1.35" fill="#4DBBD5"/>
<circle cx="61.50" cy="410.00" r="1.35" fill="#4DBBD5"/>
<circle cx="65.50" cy="409.50" r="1.35" fill="#4DBBD5"/>
<circle cx="68.50" cy="421.50" r="1.35" fill="#4DBBD5"/>
<circle cx="74.20" cy="418.00" r="1.35" fill="#4DBBD5"/>
<circle cx="76.50" cy="416.50" r="1.35" fill="#4DBBD5"/>
<circle cx="79.80" cy="410.50" r="1.35" fill="#4DBBD5"/>
<circle cx="83.50" cy="409.00" r="1.35" fill="#4DBBD5"/>
<circle cx="85.50" cy="406.50" r="1.35" fill="#4DBBD5"/>
<circle cx="84.00" cy="415.50" r="1.35" fill="#4DBBD5"/>
<circle cx="71.50" cy="425.50" r="1.35" fill="#4DBBD5"/>
<circle cx="77.80" cy="428.30" r="1.35" fill="#4DBBD5"/>
<circle cx="72.80" cy="416.00" r="1.35" fill="#4DBBD5"/>
<circle cx="42.00" cy="318.00" r="1.85" fill="#00A087"/>
<circle cx="44.20" cy="346.40" r="1.85" fill="#00A087"/>
<circle cx="58.90" cy="366.10" r="1.85" fill="#00A087"/>
<circle cx="42.20" cy="369.40" r="1.85" fill="#00A087"/>
<circle cx="46.90" cy="372.20" r="1.85" fill="#00A087"/>
<circle cx="48.50" cy="374.90" r="1.85" fill="#00A087"/>
<circle cx="53.50" cy="375.00" r="1.85" fill="#00A087"/>
<circle cx="50.00" cy="379.50" r="1.85" fill="#00A087"/>
<circle cx="60.50" cy="380.40" r="1.85" fill="#00A087"/>
<circle cx="49.30" cy="384.10" r="1.85" fill="#00A087"/>
<circle cx="59.50" cy="393.40" r="1.85" fill="#00A087"/>
<circle cx="57.30" cy="395.90" r="1.85" fill="#00A087"/>
<circle cx="56.70" cy="399.20" r="1.85" fill="#00A087"/>
<circle cx="59.20" cy="400.00" r="1.85" fill="#00A087"/>
<circle cx="58.10" cy="401.40" r="1.85" fill="#00A087"/>
<circle cx="211.50" cy="259.10" r="2.2" fill="#E64529"/>
<circle cx="158.30" cy="363.00" r="2.2" fill="#E64529"/>
<circle cx="153.60" cy="386.70" r="2.2" fill="#E64529"/>
<circle cx="84.30" cy="391.50" r="2.2" fill="#E64529"/>
<circle cx="88.60" cy="393.40" r="2.2" fill="#E64529"/>
<circle cx="89.90" cy="395.00" r="2.2" fill="#E64529"/>
<circle cx="80.70" cy="399.90" r="1.5" fill="#E64529"/>
<circle cx="66.90" cy="382.70" r="1.4" fill="#00A087"/>
<circle cx="42.20" cy="369.40" r="2.1" fill="#00A087"/>
<circle cx="44.20" cy="346.40" r="2.1" fill="#00A087"/>
<text x="262.70" y="15.60" font-size="15.2" text-anchor="start" fill="#000">C</text>
<text x="381.40" y="15.90" font-size="6.4" text-anchor="middle" font-weight="bold" fill="#000">Procrustes Analysis</text>
<line x1="272.40" y1="23.20" x2="487.50" y2="23.20" stroke="#999" stroke-width="0.95"/>
<line x1="487.50" y1="23.20" x2="487.50" y2="202.20" stroke="#999" stroke-width="0.95"/>
<line x1="272.40" y1="130.50" x2="487.50" y2="130.50" stroke="#555" stroke-width="0.7" stroke-dasharray="1,1.1"/>
<line x1="390.80" y1="23.20" x2="390.80" y2="202.20" stroke="#999" stroke-width="0.6" stroke-dasharray="1,0.9"/>
<line x1="272.40" y1="23.20" x2="272.40" y2="202.20" stroke="#808080" stroke-width="1.0"/>
<line x1="272.40" y1="202.20" x2="487.50" y2="202.20" stroke="#808080" stroke-width="1.0"/>
<line x1="270.60" y1="194.88" x2="272.40" y2="194.88" stroke="#808080" stroke-width="0.6"/>
<text x="269.80" y="196.68" font-size="5.0" text-anchor="end" fill="#333" stroke="#333" stroke-width="0.15">−0.3</text>
<line x1="270.60" y1="173.42" x2="272.40" y2="173.42" stroke="#808080" stroke-width="0.6"/>
<text x="269.80" y="175.22" font-size="5.0" text-anchor="end" fill="#333" stroke="#333" stroke-width="0.15">−0.2</text>
<line x1="270.60" y1="151.96" x2="272.40" y2="151.96" stroke="#808080" stroke-width="0.6"/>
<text x="269.80" y="153.76" font-size="5.0" text-anchor="end" fill="#333" stroke="#333" stroke-width="0.15">−0.1</text>
<line x1="270.60" y1="130.50" x2="272.40" y2="130.50" stroke="#808080" stroke-width="0.6"/>
<text x="269.80" y="132.30" font-size="5.0" text-anchor="end" fill="#333" stroke="#333" stroke-width="0.15">0</text>
<line x1="270.60" y1="109.04" x2="272.40" y2="109.04" stroke="#808080" stroke-width="0.6"/>
<text x="269.80" y="110.84" font-size="5.0" text-anchor="end" fill="#333" stroke="#333" stroke-width="0.15">0.1</text>
<line x1="270.60" y1="87.58" x2="272.40" y2="87.58" stroke="#808080" stroke-width="0.6"/>
<text x="269.80" y="89.38" font-size="5.0" text-anchor="end" fill="#333" stroke="#333" stroke-width="0.15">0.2</text>
<line x1="270.60" y1="66.12" x2="272.40" y2="66.12" stroke="#808080" stroke-width="0.6"/>
<text x="269.80" y="67.92" font-size="5.0" text-anchor="end" fill="#333" stroke="#333" stroke-width="0.15">0.3</text>
<line x1="270.60" y1="44.66" x2="272.40" y2="44.66" stroke="#808080" stroke-width="0.6"/>
<text x="269.80" y="46.46" font-size="5.0" text-anchor="end" fill="#333" stroke="#333" stroke-width="0.15">0.4</text>
<line x1="270.60" y1="23.20" x2="272.40" y2="23.20" stroke="#808080" stroke-width="0.6"/>
<text x="269.80" y="25.00" font-size="5.0" text-anchor="end" fill="#333" stroke="#333" stroke-width="0.15">0.5</text>
<line x1="279.00" y1="202.20" x2="279.00" y2="203.80" stroke="#808080" stroke-width="0.6"/>
<text x="279.00" y="209.80" font-size="5.0" text-anchor="middle" fill="#333" stroke="#333" stroke-width="0.15">−0.5</text>
<line x1="301.36" y1="202.20" x2="301.36" y2="203.80" stroke="#808080" stroke-width="0.6"/>
<text x="301.36" y="209.80" font-size="5.0" text-anchor="middle" fill="#333" stroke="#333" stroke-width="0.15">−0.4</text>
<line x1="323.72" y1="202.20" x2="323.72" y2="203.80" stroke="#808080" stroke-width="0.6"/>
<text x="323.72" y="209.80" font-size="5.0" text-anchor="middle" fill="#333" stroke="#333" stroke-width="0.15">−0.3</text>
<line x1="346.08" y1="202.20" x2="346.08" y2="203.80" stroke="#808080" stroke-width="0.6"/>
<text x="346.08" y="209.80" font-size="5.0" text-anchor="middle" fill="#333" stroke="#333" stroke-width="0.15">−0.2</text>
<line x1="368.44" y1="202.20" x2="368.44" y2="203.80" stroke="#808080" stroke-width="0.6"/>
<text x="368.44" y="209.80" font-size="5.0" text-anchor="middle" fill="#333" stroke="#333" stroke-width="0.15">−0.1</text>
<line x1="390.80" y1="202.20" x2="390.80" y2="203.80" stroke="#808080" stroke-width="0.6"/>
<text x="390.80" y="209.80" font-size="5.0" text-anchor="middle" fill="#333" stroke="#333" stroke-width="0.15">0</text>
<line x1="413.16" y1="202.20" x2="413.16" y2="203.80" stroke="#808080" stroke-width="0.6"/>
<text x="413.16" y="209.80" font-size="5.0" text-anchor="middle" fill="#333" stroke="#333" stroke-width="0.15">0.1</text>
<line x1="435.52" y1="202.20" x2="435.52" y2="203.80" stroke="#808080" stroke-width="0.6"/>
<text x="435.52" y="209.80" font-size="5.0" text-anchor="middle" fill="#333" stroke="#333" stroke-width="0.15">0.2</text>
<line x1="457.88" y1="202.20" x2="457.88" y2="203.80" stroke="#808080" stroke-width="0.6"/>
<text x="457.88" y="209.80" font-size="5.0" text-anchor="middle" fill="#333" stroke="#333" stroke-width="0.15">0.3</text>
<line x1="480.24" y1="202.20" x2="480.24" y2="203.80" stroke="#808080" stroke-width="0.6"/>
<text x="480.24" y="209.80" font-size="5.0" text-anchor="middle" fill="#333" stroke="#333" stroke-width="0.15">0.4</text>
<text x="380.50" y="214.50" font-size="5.6" text-anchor="middle" font-weight="bold" fill="#000">PC1(51.75%)</text>
<text x="258.00" y="109.30" font-size="5.6" text-anchor="middle" font-weight="bold" fill="#000" transform="rotate(-90 258.00 109.30)">PC2(27.04%)</text>
<line x1="372.10" y1="41.40" x2="328.80" y2="76.20" stroke="#6CC4B6" stroke-width="0.9"/>
<line x1="377.10" y1="62.20" x2="351.50" y2="111.10" stroke="#6CC4B6" stroke-width="0.9"/>
<line x1="370.70" y1="173.30" x2="285.30" y2="189.60" stroke="#6CC4B6" stroke-width="0.9"/>
<line x1="478.90" y1="120.10" x2="408.40" y2="139.30" stroke="#8E9CCB" stroke-width="0.9"/>
<line x1="415.20" y1="158.10" x2="459.80" y2="154.70" stroke="#8E9CCB" stroke-width="0.9"/>
<line x1="427.30" y1="159.70" x2="415.50" y2="177.90" stroke="#8E9CCB" stroke-width="0.9"/>
<circle cx="372.10" cy="41.40" r="2.0" fill="#E8604C"/>
<circle cx="351.50" cy="111.10" r="2.0" fill="#E8604C"/>
<circle cx="370.70" cy="173.30" r="2.0" fill="#E8604C"/>
<path d="M328.80 73.75L331.35 78.17L326.25 78.17Z" fill="#E8604C"/>
<path d="M377.10 59.75L379.65 64.17L374.55 64.17Z" fill="#E8604C"/>
<path d="M285.10 187.15L287.65 191.57L282.55 191.57Z" fill="#E8604C"/>
<circle cx="408.40" cy="139.30" r="2.0" fill="#5BBEDB"/>
<circle cx="415.20" cy="158.10" r="2.0" fill="#5BBEDB"/>
<circle cx="427.30" cy="159.70" r="2.0" fill="#5BBEDB"/>
<path d="M478.90 117.65L481.45 122.07L476.35 122.07Z" fill="#5BBEDB"/>
<path d="M459.80 152.25L462.35 156.67L457.25 156.67Z" fill="#5BBEDB"/>
<path d="M415.50 175.45L418.05 179.87L412.95 179.87Z" fill="#5BBEDB"/>
<text x="490.40" y="28.60" font-size="7.4" text-anchor="start" fill="#222" stroke="#222" stroke-width="0.15">Group</text>
<circle cx="493.10" cy="35.90" r="3.6" fill="#E8604C"/>
<text x="498.80" y="38.60" font-size="7.4" text-anchor="start" fill="#222" stroke="#222" stroke-width="0.15">ea</text>
<circle cx="493.10" cy="46.40" r="3.6" fill="#5BBEDB"/>
<text x="498.80" y="49.10" font-size="7.4" text-anchor="start" fill="#222" stroke="#222" stroke-width="0.15">ca</text>
<path d="M492.80 149.98L495.90 155.35L489.70 155.35Z" fill="#000"/>
<text x="499.00" y="155.80" font-size="7.4" text-anchor="start" fill="#222" stroke="#222" stroke-width="0.15">Metabolite</text>
<circle cx="493.10" cy="165.50" r="3.4" fill="#000"/>
<text x="499.00" y="168.20" font-size="7.4" text-anchor="start" fill="#222" stroke="#222" stroke-width="0.15">Transcriptome</text>
<text x="263.20" y="238.90" font-size="15.2" text-anchor="start" fill="#000">D</text>
<circle cx="356.4" cy="339.8" r="64" fill="#EE7B6C"/>
<circle cx="420.4" cy="339.8" r="64" fill="#79C9DF"/>
<path d="M388.4 284.37A64 64 0 0 1 388.4 395.23A64 64 0 0 1 388.4 284.37Z" fill="#74A6B6"/>
<text x="326.30" y="325.00" font-size="9.5" text-anchor="middle" fill="#333" letter-spacing="0.22">4</text>
<text x="388.20" y="319.30" font-size="9.5" text-anchor="middle" fill="#333" letter-spacing="0.22">Galactose</text>
<text x="388.20" y="330.00" font-size="9.5" text-anchor="middle" fill="#333" letter-spacing="0.22">metabolism</text>
<text x="326.60" y="359.80" font-size="9.5" text-anchor="middle" fill="#333" letter-spacing="0.22">Metabolite</text>
<text x="389.40" y="359.90" font-size="9.5" text-anchor="middle" fill="#333" letter-spacing="0.22">1</text>
<text x="450.00" y="325.00" font-size="9.5" text-anchor="middle" fill="#333" letter-spacing="0.22">15</text>
<text x="449.50" y="359.80" font-size="9.5" text-anchor="middle" fill="#333" letter-spacing="0.22">Transcriptome</text>
<text x="93.80" y="478.20" font-size="15.2" text-anchor="start" fill="#000">E</text>
<text x="261.70" y="477.90" font-size="10" text-anchor="middle" font-weight="bold" fill="#000">KEGG Enrichment</text>
<line x1="126.30" y1="496.40" x2="126.30" y2="683.90" stroke="#333" stroke-width="0.9"/>
<line x1="126.30" y1="683.90" x2="398.00" y2="683.90" stroke="#333" stroke-width="0.9"/>
<line x1="123.10" y1="683.90" x2="126.30" y2="683.90" stroke="#333" stroke-width="0.7"/>
<text x="120.90" y="686.20" font-size="6.5" text-anchor="end" fill="#333" stroke="#333" stroke-width="0.15">0</text>
<line x1="123.10" y1="668.30" x2="126.30" y2="668.30" stroke="#333" stroke-width="0.7"/>
<text x="120.90" y="670.60" font-size="6.5" text-anchor="end" fill="#333" stroke="#333" stroke-width="0.15">0.5</text>
<line x1="123.10" y1="652.70" x2="126.30" y2="652.70" stroke="#333" stroke-width="0.7"/>
<text x="120.90" y="655.00" font-size="6.5" text-anchor="end" fill="#333" stroke="#333" stroke-width="0.15">1</text>
<line x1="123.10" y1="637.10" x2="126.30" y2="637.10" stroke="#333" stroke-width="0.7"/>
<text x="120.90" y="639.40" font-size="6.5" text-anchor="end" fill="#333" stroke="#333" stroke-width="0.15">1.5</text>
<line x1="123.10" y1="621.50" x2="126.30" y2="621.50" stroke="#333" stroke-width="0.7"/>
<text x="120.90" y="623.80" font-size="6.5" text-anchor="end" fill="#333" stroke="#333" stroke-width="0.15">2</text>
<line x1="123.10" y1="605.90" x2="126.30" y2="605.90" stroke="#333" stroke-width="0.7"/>
<text x="120.90" y="608.20" font-size="6.5" text-anchor="end" fill="#333" stroke="#333" stroke-width="0.15">2.5</text>
<line x1="123.10" y1="590.30" x2="126.30" y2="590.30" stroke="#333" stroke-width="0.7"/>
<text x="120.90" y="592.60" font-size="6.5" text-anchor="end" fill="#333" stroke="#333" stroke-width="0.15">3</text>
<line x1="123.10" y1="574.70" x2="126.30" y2="574.70" stroke="#333" stroke-width="0.7"/>
<text x="120.90" y="577.00" font-size="6.5" text-anchor="end" fill="#333" stroke="#333" stroke-width="0.15">3.5</text>
<line x1="123.10" y1="559.10" x2="126.30" y2="559.10" stroke="#333" stroke-width="0.7"/>
<text x="120.90" y="561.40" font-size="6.5" text-anchor="end" fill="#333" stroke="#333" stroke-width="0.15">4</text>
<line x1="123.10" y1="543.50" x2="126.30" y2="543.50" stroke="#333" stroke-width="0.7"/>
<text x="120.90" y="545.80" font-size="6.5" text-anchor="end" fill="#333" stroke="#333" stroke-width="0.15">4.5</text>
<line x1="123.10" y1="527.90" x2="126.30" y2="527.90" stroke="#333" stroke-width="0.7"/>
<text x="120.90" y="530.20" font-size="6.5" text-anchor="end" fill="#333" stroke="#333" stroke-width="0.15">5</text>
<line x1="123.10" y1="512.30" x2="126.30" y2="512.30" stroke="#333" stroke-width="0.7"/>
<text x="120.90" y="514.60" font-size="6.5" text-anchor="end" fill="#333" stroke="#333" stroke-width="0.15">5.5</text>
<line x1="123.10" y1="496.70" x2="126.30" y2="496.70" stroke="#333" stroke-width="0.7"/>
<text x="120.90" y="499.00" font-size="6.5" text-anchor="end" fill="#333" stroke="#333" stroke-width="0.15">6</text>
<rect x="131.30" y="505.44" width="4.85" height="178.46" fill="#E74425"/>
<line x1="136.15" y1="683.90" x2="136.15" y2="686.40" stroke="#333" stroke-width="0.7"/>
<text x="136.75" y="690.80" font-size="6.8" text-anchor="end" fill="#222" transform="rotate(-43.8 136.75 690.80)" stroke="#222" stroke-width="0.15">Phosphotransferase system (PTS)</text>
<rect x="150.76" y="666.74" width="4.85" height="17.16" fill="#E74425"/>
<rect x="155.61" y="564.72" width="4.85" height="119.18" fill="#40B4D3"/>
<line x1="155.61" y1="683.90" x2="155.61" y2="686.40" stroke="#333" stroke-width="0.7"/>
<text x="156.21" y="690.80" font-size="6.8" text-anchor="end" fill="#222" transform="rotate(-43.8 156.21 690.80)" stroke="#222" stroke-width="0.15">Histidine metabolism</text>
<rect x="175.07" y="582.81" width="4.85" height="101.09" fill="#40B4D3"/>
<line x1="175.07" y1="683.90" x2="175.07" y2="686.40" stroke="#333" stroke-width="0.7"/>
<text x="175.67" y="690.80" font-size="6.8" text-anchor="end" fill="#222" transform="rotate(-43.8 175.67 690.80)" stroke="#222" stroke-width="0.15">Citrate cycle (TCA cycle)</text>
<rect x="194.53" y="585.62" width="4.85" height="98.28" fill="#40B4D3"/>
<line x1="194.53" y1="683.90" x2="194.53" y2="686.40" stroke="#333" stroke-width="0.7"/>
<text x="195.13" y="690.80" font-size="6.8" text-anchor="end" fill="#222" transform="rotate(-43.8 195.13 690.80)" stroke="#222" stroke-width="0.15">Central carbon metabolism in cancer</text>
<rect x="213.99" y="589.68" width="4.85" height="94.22" fill="#40B4D3"/>
<line x1="213.99" y1="683.90" x2="213.99" y2="686.40" stroke="#333" stroke-width="0.7"/>
<text x="214.59" y="690.80" font-size="6.8" text-anchor="end" fill="#222" transform="rotate(-43.8 214.59 690.80)" stroke="#222" stroke-width="0.15">Glutathione metabolism</text>
<rect x="233.45" y="594.98" width="4.85" height="88.92" fill="#40B4D3"/>
<line x1="233.45" y1="683.90" x2="233.45" y2="686.40" stroke="#333" stroke-width="0.7"/>
<text x="234.05" y="690.80" font-size="6.8" text-anchor="end" fill="#222" transform="rotate(-43.8 234.05 690.80)" stroke="#222" stroke-width="0.15">Glucagon signaling pathway</text>
<rect x="252.91" y="602.47" width="4.85" height="81.43" fill="#40B4D3"/>
<line x1="252.91" y1="683.90" x2="252.91" y2="686.40" stroke="#333" stroke-width="0.7"/>
<text x="253.51" y="690.80" font-size="6.8" text-anchor="end" fill="#222" transform="rotate(-43.8 253.51 690.80)" stroke="#222" stroke-width="0.15">Glycolysis / Gluconeogenesis</text>
<rect x="267.52" y="530.40" width="4.85" height="153.50" fill="#E74425"/>
<rect x="272.37" y="605.59" width="4.85" height="78.31" fill="#40B4D3"/>
<line x1="272.37" y1="683.90" x2="272.37" y2="686.40" stroke="#333" stroke-width="0.7"/>
<text x="272.97" y="690.80" font-size="6.8" text-anchor="end" fill="#222" transform="rotate(-43.8 272.97 690.80)" stroke="#222" stroke-width="0.15">Galactose metabolism</text>
<rect x="286.98" y="643.65" width="4.85" height="40.25" fill="#E74425"/>
<rect x="291.83" y="611.20" width="4.85" height="72.70" fill="#40B4D3"/>
<line x1="291.83" y1="683.90" x2="291.83" y2="686.40" stroke="#333" stroke-width="0.7"/>
<text x="292.43" y="690.80" font-size="6.8" text-anchor="end" fill="#222" transform="rotate(-43.8 292.43 690.80)" stroke="#222" stroke-width="0.15">Fructose and mannose metabolism</text>
<rect x="311.29" y="615.57" width="4.85" height="68.33" fill="#40B4D3"/>
<line x1="311.29" y1="683.90" x2="311.29" y2="686.40" stroke="#333" stroke-width="0.7"/>
<text x="311.89" y="690.80" font-size="6.8" text-anchor="end" fill="#222" transform="rotate(-43.8 311.89 690.80)" stroke="#222" stroke-width="0.15">D-Amino acid metabolism</text>
<rect x="325.90" y="663.93" width="4.85" height="19.97" fill="#E74425"/>
<rect x="330.75" y="617.76" width="4.85" height="66.14" fill="#40B4D3"/>
<line x1="330.75" y1="683.90" x2="330.75" y2="686.40" stroke="#333" stroke-width="0.7"/>
<text x="331.35" y="690.80" font-size="6.8" text-anchor="end" fill="#222" transform="rotate(-43.8 331.35 690.80)" stroke="#222" stroke-width="0.15">Starch and sucrose metabolism</text>
<rect x="345.36" y="642.09" width="4.85" height="41.81" fill="#E74425"/>
<rect x="350.21" y="676.41" width="4.85" height="7.49" fill="#40B4D3"/>
<line x1="350.21" y1="683.90" x2="350.21" y2="686.40" stroke="#333" stroke-width="0.7"/>
<text x="350.81" y="690.80" font-size="6.8" text-anchor="end" fill="#222" transform="rotate(-43.8 350.81 690.80)" stroke="#222" stroke-width="0.15">Phenylalanine metabolism</text>
<rect x="364.82" y="624.00" width="4.85" height="59.90" fill="#E74425"/>
<rect x="369.67" y="680.78" width="4.85" height="3.12" fill="#40B4D3"/>
<line x1="369.67" y1="683.90" x2="369.67" y2="686.40" stroke="#333" stroke-width="0.7"/>
<text x="370.27" y="690.80" font-size="6.8" text-anchor="end" fill="#222" transform="rotate(-43.8 370.27 690.80)" stroke="#222" stroke-width="0.15">Riboflavin metabolism</text>
<rect x="384.28" y="626.18" width="4.85" height="57.72" fill="#E74425"/>
<rect x="389.13" y="682.34" width="4.85" height="1.56" fill="#40B4D3"/>
<line x1="389.13" y1="683.90" x2="389.13" y2="686.40" stroke="#333" stroke-width="0.7"/>
<text x="389.73" y="690.80" font-size="6.8" text-anchor="end" fill="#222" transform="rotate(-43.8 389.73 690.80)" stroke="#222" stroke-width="0.15">ABC transporters</text>
<line x1="126.30" y1="621.50" x2="398.00" y2="621.50" stroke="#111" stroke-width="1.2" stroke-dasharray="1.3,1.3"/>
<line x1="126.30" y1="643.34" x2="398.00" y2="643.34" stroke="#111" stroke-width="1.2" stroke-dasharray="1.3,1.3"/>
<text x="395.90" y="618.50" font-size="6.6" text-anchor="start" fill="#222" stroke="#222" stroke-width="0.15">Pvalue &lt; 0.01</text>
<text x="395.90" y="640.50" font-size="6.6" text-anchor="start" fill="#222" stroke="#222" stroke-width="0.15">Pvalue &lt; 0.05</text>
<text x="106.00" y="591.00" font-size="8.3" text-anchor="middle" font-weight="bold" fill="#000" transform="rotate(-90 106.00 591.00)">-log10(Pvalue)</text>
<text x="262.60" y="777.00" font-size="8" text-anchor="middle" font-weight="bold" fill="#000">Pathway</text>
<rect x="409.00" y="496.10" width="6.20" height="6.20" fill="#E74425"/>
<text x="417.10" y="501.60" font-size="7" text-anchor="start" fill="#222" stroke="#222" stroke-width="0.15">metabolite</text>
<rect x="409.00" y="506.90" width="6.20" height="6.20" fill="#40B4D3"/>
<text x="417.10" y="512.40" font-size="7" text-anchor="start" fill="#222" stroke="#222" stroke-width="0.15">gene</text>
</svg>
</body></html>
